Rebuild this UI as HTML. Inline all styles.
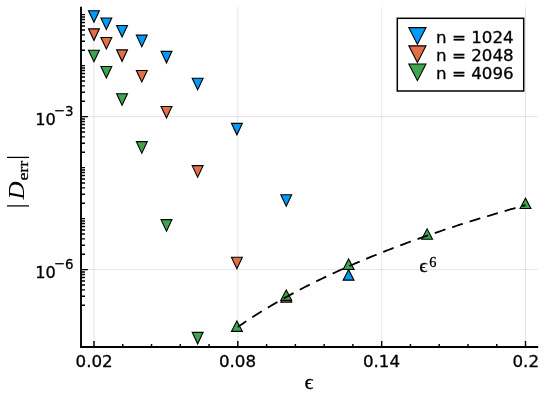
<!DOCTYPE html>
<html><head><meta charset="utf-8"><style>html,body{margin:0;padding:0;background:#fff;overflow:hidden}svg{display:block}</style></head>
<body>
<svg width="550" height="396" viewBox="0 0 550 396">
<rect width="550" height="396" fill="#fff"/>
<path d="M94.00 6.80V347.00M237.83 6.80V347.00M381.66 6.80V347.00M525.50 6.80V347.00M81.00 116.60H538.20M81.00 269.60H538.20" stroke="#000" stroke-opacity="0.1" stroke-width="1" fill="none"/>
<path d="M94.00 347.00v-6M237.83 347.00v-6M381.66 347.00v-6M525.50 347.00v-6M81.00 116.60h6.9M81.00 269.60h6.9M122.77 347.00v-3M151.53 347.00v-3M180.30 347.00v-3M209.07 347.00v-3M266.60 347.00v-3M295.36 347.00v-3M324.13 347.00v-3M352.90 347.00v-3M410.43 347.00v-3M439.20 347.00v-3M467.96 347.00v-3M496.73 347.00v-3M81.00 305.25h4M81.00 296.27h4M81.00 289.89h4M81.00 284.95h4M81.00 280.91h4M81.00 277.50h4M81.00 274.54h4M81.00 271.93h4M81.00 254.25h4M81.00 245.27h4M81.00 238.89h4M81.00 233.95h4M81.00 229.91h4M81.00 226.50h4M81.00 223.54h4M81.00 220.93h4M81.00 218.60h4M81.00 203.25h4M81.00 194.27h4M81.00 187.89h4M81.00 182.95h4M81.00 178.91h4M81.00 175.50h4M81.00 172.54h4M81.00 169.93h4M81.00 167.60h4M81.00 152.25h4M81.00 143.27h4M81.00 136.89h4M81.00 131.95h4M81.00 127.91h4M81.00 124.50h4M81.00 121.54h4M81.00 118.93h4M81.00 101.25h4M81.00 92.27h4M81.00 85.89h4M81.00 80.95h4M81.00 76.91h4M81.00 73.50h4M81.00 70.54h4M81.00 67.93h4M81.00 65.60h4M81.00 50.25h4M81.00 41.27h4M81.00 34.89h4M81.00 29.95h4M81.00 25.91h4M81.00 22.50h4M81.00 19.54h4M81.00 16.93h4M81.00 14.60h4" stroke="#000" stroke-width="1.45" fill="none"/>
<path d="M81.00 6.80V347.00H538.20" stroke="#000" stroke-width="1.9" fill="none"/>
<path d="M88.50 10.75H99.40L93.95 22.25Z" fill="#009afa" stroke="#000" stroke-width="1.1"/>
<path d="M100.90 17.95H111.80L106.35 29.45Z" fill="#009afa" stroke="#000" stroke-width="1.1"/>
<path d="M116.60 25.45H127.50L122.05 36.95Z" fill="#009afa" stroke="#000" stroke-width="1.1"/>
<path d="M136.35 35.15H147.25L141.80 46.65Z" fill="#009afa" stroke="#000" stroke-width="1.1"/>
<path d="M161.05 51.35H171.95L166.50 62.85Z" fill="#009afa" stroke="#000" stroke-width="1.1"/>
<path d="M192.20 78.25H203.10L197.65 89.75Z" fill="#009afa" stroke="#000" stroke-width="1.1"/>
<path d="M231.45 123.35H242.35L236.90 134.85Z" fill="#009afa" stroke="#000" stroke-width="1.1"/>
<path d="M280.80 194.75H291.70L286.25 206.25Z" fill="#009afa" stroke="#000" stroke-width="1.1"/>
<path d="M343.15 280.15H354.05L348.60 269.75Z" fill="#009afa" stroke="#000" stroke-width="1.1"/>
<path d="M88.50 28.85H99.40L93.95 40.35Z" fill="#e36f47" stroke="#000" stroke-width="1.1"/>
<path d="M100.90 37.55H111.80L106.35 49.05Z" fill="#e36f47" stroke="#000" stroke-width="1.1"/>
<path d="M116.60 49.85H127.50L122.05 61.35Z" fill="#e36f47" stroke="#000" stroke-width="1.1"/>
<path d="M136.35 70.55H147.25L141.80 82.05Z" fill="#e36f47" stroke="#000" stroke-width="1.1"/>
<path d="M161.05 106.55H171.95L166.50 118.05Z" fill="#e36f47" stroke="#000" stroke-width="1.1"/>
<path d="M192.20 165.65H203.10L197.65 177.15Z" fill="#e36f47" stroke="#000" stroke-width="1.1"/>
<path d="M231.45 257.25H242.35L236.90 268.75Z" fill="#e36f47" stroke="#000" stroke-width="1.1"/>
<path d="M280.80 302.15H291.70L286.25 291.75Z" fill="#e36f47" stroke="#000" stroke-width="1.1"/>
<path d="M88.50 50.25H99.40L93.95 61.75Z" fill="#3ea44e" stroke="#000" stroke-width="1.1"/>
<path d="M100.90 66.55H111.80L106.35 78.05Z" fill="#3ea44e" stroke="#000" stroke-width="1.1"/>
<path d="M116.60 93.75H127.50L122.05 105.25Z" fill="#3ea44e" stroke="#000" stroke-width="1.1"/>
<path d="M136.35 141.65H147.25L141.80 153.15Z" fill="#3ea44e" stroke="#000" stroke-width="1.1"/>
<path d="M161.05 219.65H171.95L166.50 231.15Z" fill="#3ea44e" stroke="#000" stroke-width="1.1"/>
<path d="M192.20 332.35H203.10L197.65 343.85Z" fill="#3ea44e" stroke="#000" stroke-width="1.1"/>
<path d="M231.45 331.35H242.35L236.90 320.95Z" fill="#3ea44e" stroke="#000" stroke-width="1.1"/>
<path d="M280.80 300.35H291.70L286.25 289.95Z" fill="#3ea44e" stroke="#000" stroke-width="1.1"/>
<path d="M343.15 269.45H354.05L348.60 259.05Z" fill="#3ea44e" stroke="#000" stroke-width="1.1"/>
<path d="M421.65 239.25H432.55L427.10 228.85Z" fill="#3ea44e" stroke="#000" stroke-width="1.1"/>
<path d="M520.05 208.55H530.95L525.50 198.15Z" fill="#3ea44e" stroke="#000" stroke-width="1.1"/>
<polyline points="237.83,326.95 240.23,325.30 242.63,323.67 245.02,322.06 247.42,320.46 249.82,318.89 252.22,317.34 254.61,315.80 257.01,314.28 259.41,312.78 261.80,311.29 264.20,309.83 266.60,308.37 269.00,306.94 271.39,305.52 273.79,304.11 276.19,302.72 278.58,301.34 280.98,299.98 283.38,298.63 285.78,297.29 288.17,295.97 290.57,294.66 292.97,293.36 295.36,292.08 297.76,290.81 300.16,289.55 302.56,288.30 304.95,287.07 307.35,285.84 309.75,284.63 312.15,283.42 314.54,282.23 316.94,281.05 319.34,279.88 321.73,278.72 324.13,277.57 326.53,276.43 328.93,275.30 331.32,274.18 333.72,273.06 336.12,271.96 338.51,270.87 340.91,269.78 343.31,268.71 345.71,267.64 348.10,266.58 350.50,265.53 352.90,264.49 355.29,263.45 357.69,262.43 360.09,261.41 362.49,260.40 364.88,259.39 367.28,258.40 369.68,257.41 372.08,256.43 374.47,255.46 376.87,254.49 379.27,253.53 381.66,252.58 384.06,251.63 386.46,250.69 388.86,249.76 391.25,248.83 393.65,247.91 396.05,247.00 398.44,246.09 400.84,245.19 403.24,244.30 405.64,243.41 408.03,242.53 410.43,241.65 412.83,240.78 415.22,239.91 417.62,239.05 420.02,238.20 422.42,237.35 424.81,236.50 427.21,235.67 429.61,234.83 432.01,234.00 434.40,233.18 436.80,232.36 439.20,231.55 441.59,230.74 443.99,229.94 446.39,229.14 448.79,228.35 451.18,227.56 453.58,226.78 455.98,226.00 458.37,225.22 460.77,224.45 463.17,223.68 465.57,222.92 467.96,222.17 470.36,221.41 472.76,220.66 475.15,219.92 477.55,219.18 479.95,218.44 482.35,217.71 484.74,216.98 487.14,216.26 489.54,215.54 491.94,214.82 494.33,214.11 496.73,213.40 499.13,212.70 501.52,211.99 503.92,211.30 506.32,210.60 508.72,209.91 511.11,209.23 513.51,208.54 515.91,207.86 518.30,207.19 520.70,206.51 523.10,205.84 525.50,205.18" fill="none" stroke="#000" stroke-width="1.8" stroke-dasharray="11.2 7.12" stroke-dashoffset="0.95"/>
<text x="75.59" y="367.13" font-family="DejaVu Sans, sans-serif" stroke="#000" stroke-width="0.3" font-size="16.7">0.02</text>
<text x="218.93" y="367.13" font-family="DejaVu Sans, sans-serif" stroke="#000" stroke-width="0.3" font-size="16.7">0.08</text>
<text x="362.93" y="367.13" font-family="DejaVu Sans, sans-serif" stroke="#000" stroke-width="0.3" font-size="16.7">0.14</text>
<text x="512.51" y="367.13" font-family="DejaVu Sans, sans-serif" stroke="#000" stroke-width="0.3" font-size="16.7">0.2</text>
<text x="35.19" y="124.75" font-family="DejaVu Sans, sans-serif" stroke="#000" stroke-width="0.3" font-size="16.2">10</text>
<text x="53.77" y="115.14" font-family="DejaVu Sans, sans-serif" stroke="#000" stroke-width="0.3" font-size="13.2">−</text>
<text x="64.96" y="115.68" font-family="DejaVu Sans, sans-serif" stroke="#000" stroke-width="0.3" font-size="13.4">3</text>
<text x="35.19" y="277.75" font-family="DejaVu Sans, sans-serif" stroke="#000" stroke-width="0.3" font-size="16.2">10</text>
<text x="53.77" y="268.14" font-family="DejaVu Sans, sans-serif" stroke="#000" stroke-width="0.3" font-size="13.2">−</text>
<text x="64.89" y="268.68" font-family="DejaVu Sans, sans-serif" stroke="#000" stroke-width="0.3" font-size="13.4">6</text>
<g transform="translate(423.50,268.00) scale(1.08,1)"><text x="-4.01" y="4.38" font-family="Liberation Serif, serif" stroke="#000" stroke-width="0.3" font-size="19.0">ϵ</text></g>
<text x="429.16" y="266.80" font-family="Liberation Serif, serif" stroke="#000" stroke-width="0.3" font-size="14.4">6</text>
<g transform="translate(309.20,384.30) scale(1.08,1)"><text x="-4.35" y="4.75" font-family="Liberation Serif, serif" stroke="#000" stroke-width="0.3" font-size="20.6">ϵ</text></g>
<text transform="translate(24.49,208.39) rotate(-90)" font-family="Liberation Serif, serif" font-size="25.9">|</text>
<text transform="translate(23.93,199.38) rotate(-90) scale(1.04,1)" font-family="Liberation Serif, serif" font-style="italic" font-size="24.0">D</text>
<text transform="translate(28.28,180.56) rotate(-90) scale(1.15,1)" font-family="Liberation Serif, serif" stroke="#000" stroke-width="0.3" font-size="15.5">err</text>
<text transform="translate(24.49,159.89) rotate(-90)" font-family="Liberation Serif, serif" font-size="25.9">|</text>
<rect x="397.3" y="18.3" width="126.4" height="72.7" fill="#fff" stroke="#000" stroke-width="1.5"/>
<path d="M408.80 27.65H426.00L417.40 44.25Z" fill="#009afa" stroke="#000" stroke-width="1.1"/>
<text x="436.08" y="42.53" font-family="DejaVu Sans, sans-serif" stroke="#000" stroke-width="0.3" font-size="16.7">n = 1024</text>
<path d="M408.80 45.85H426.00L417.40 62.45Z" fill="#e36f47" stroke="#000" stroke-width="1.1"/>
<text x="436.08" y="60.80" font-family="DejaVu Sans, sans-serif" stroke="#000" stroke-width="0.3" font-size="16.7">n = 2048</text>
<path d="M408.80 64.05H426.00L417.40 80.65Z" fill="#3ea44e" stroke="#000" stroke-width="1.1"/>
<text x="436.08" y="79.07" font-family="DejaVu Sans, sans-serif" stroke="#000" stroke-width="0.3" font-size="16.7">n = 4096</text>
</svg>
</body></html>
